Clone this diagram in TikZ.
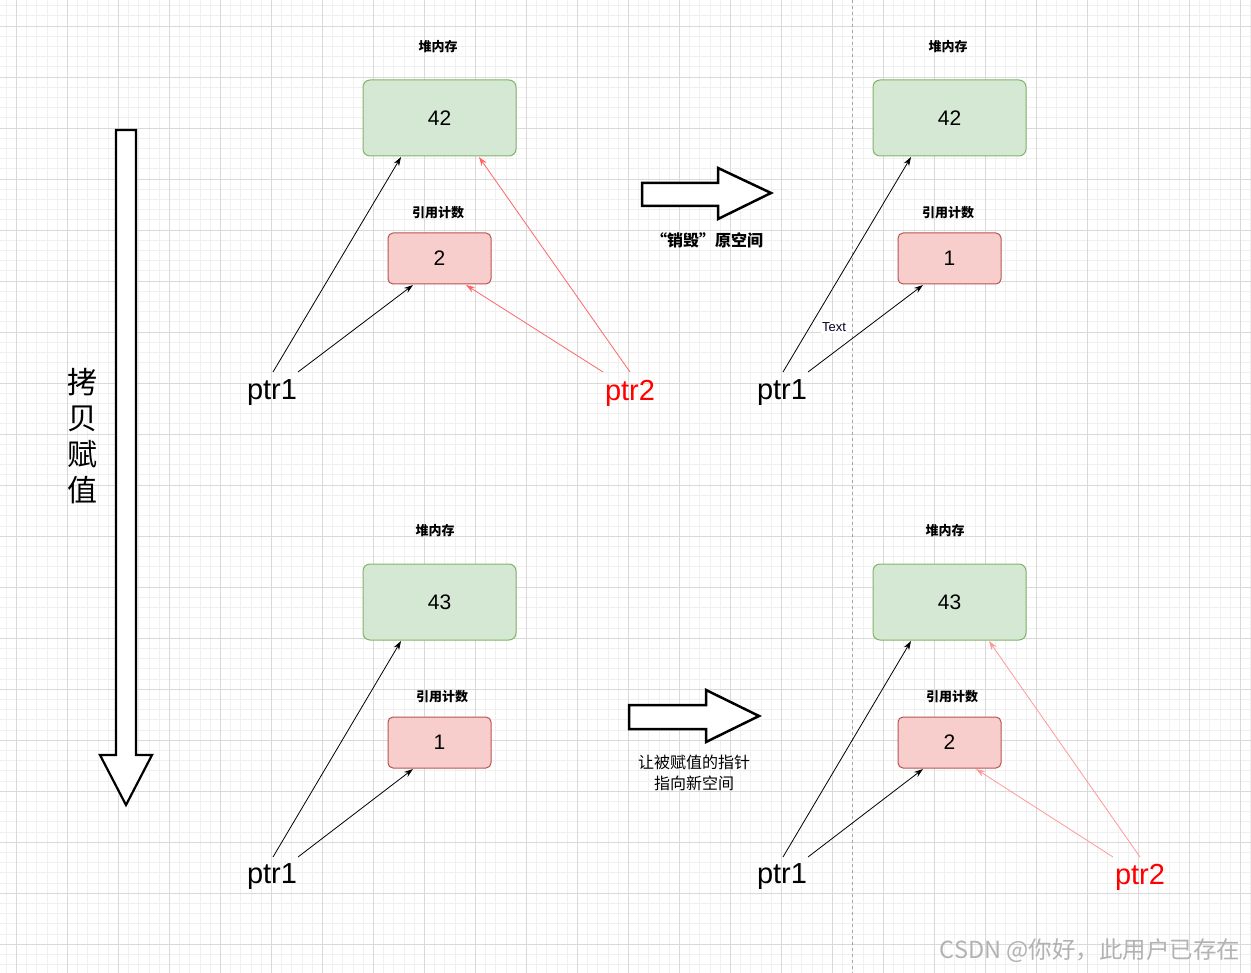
\documentclass[tikz,border=0pt]{standalone}
\usepackage{fontspec}
\setmainfont{Liberation Sans}
\newfontfamily\cjk{Noto Sans CJK SC}
\usetikzlibrary{arrows.meta}
\definecolor{hfill}{HTML}{D5E8D4}\definecolor{hdraw}{HTML}{82B366}
\definecolor{rfill}{HTML}{F8CECC}\definecolor{rdraw}{HTML}{B85450}
\definecolor{pred}{HTML}{FF0000}\definecolor{lred}{HTML}{FF6666}\definecolor{llred}{HTML}{FF9999}
\begin{document}
\begin{tikzpicture}[x=1pt,y=-1pt,
 heap/.style={draw=hdraw,fill=hfill,line width=1pt,rounded corners=7pt,minimum width=153pt,minimum height=76pt,font=\fontsize{21}{21}\selectfont},
 refc/.style={draw=rdraw,fill=rfill,line width=1pt,rounded corners=5pt,minimum width=103pt,minimum height=51pt,font=\fontsize{21}{21}\selectfont},
 lbl/.style={font=\cjk\bfseries\fontsize{13}{13}\selectfont},
 ptr/.style={font=\fontsize{29}{29}\selectfont},
 con/.style={-{Stealth[length=9pt,width=6pt]},line width=0.8pt},
 fat/.style={draw=black,line width=2.5pt,fill=white,line join=miter}]
\useasboundingbox (0,0) rectangle (1251,973);
\fill[white] (0,0) rectangle (1251,973);
\foreach \x in {6,16.2,...,1251} \draw[black!6,line width=0.6pt] (\x,0)--(\x,973);
\foreach \y in {5.6,15.8,...,973} \draw[black!6,line width=0.6pt] (0,\y)--(1251,\y);
\foreach \x in {16,67,...,1251} \draw[black!15,line width=0.6pt] (\x,0)--(\x,973);
\foreach \y in {26,77,...,973} \draw[black!15,line width=0.6pt] (0,\y)--(1251,\y);
\draw[black!35,dashed,line width=0.8pt] (852,0)--(852,973);
% vertical arrow
\draw[fat,line width=2.2pt] (116,130)--(136,130)--(136,755)--(152,755)--(126,805)--(100,755)--(116,755)--cycle;
\node[font=\cjk\fontsize{30}{36}\selectfont,align=center] (title) at (82,436) {拷\\贝\\赋\\值};
% top left
\node[lbl] (l1) at (438,47) {堆内存};
\node[heap] (h1) at (439.5,118) {42};
\node[lbl] (c1) at (438,213) {引用计数};
\node[refc] (r1) at (439.5,258.5) {2};
\node[ptr] (p1) at (272,393) {ptr1};
\node[ptr,text=pred] (q1) at (630,393) {ptr2};
\draw[con] (273,372) -- (401,157);
\draw[con] (298,372) -- (413,285);
\draw[con,lred] (630,372) -- (479,157);
\draw[con,lred] (603,372) -- (466,285);
% top arrow
\draw[fat] (642,183)--(718,183)--(718,168)--(771,193)--(718,219)--(718,206)--(642,206)--cycle;
\node[font=\cjk\bfseries\fontsize{16}{16}\selectfont] (t1) at (707,240) {“销毁”原空间};
% top right
\node[lbl] (l2) at (948,47) {堆内存};
\node[heap] (h2) at (949.5,118) {42};
\node[lbl] (c2) at (948,213) {引用计数};
\node[refc] (r2) at (949.5,258.5) {1};
\node[ptr] (p2) at (782,393) {ptr1};
\draw[con] (783,372) -- (911,157);
\draw[con] (808,372) -- (923,285);
\node[font=\fontsize{13}{13}\selectfont,text=black!85!blue,fill=white,inner sep=1pt] (tx) at (834,327) {Text};
% bottom left
\node[lbl] (l3) at (435,531) {堆内存};
\node[heap] (h3) at (439.5,602) {43};
\node[lbl] (c3) at (442,697) {引用计数};
\node[refc] (r3) at (439.5,742.5) {1};
\node[ptr] (p3) at (272,877) {ptr1};
\draw[con] (273,857) -- (401,641);
\draw[con] (298,857) -- (413,769);
% bottom arrow
\draw[fat] (629,705)--(706,705)--(706,690)--(759,716)--(706,742)--(706,729)--(629,729)--cycle;
\node[font=\cjk\fontsize{16}{21}\selectfont,align=center] (t2) at (694,773) {让被赋值的指针\\指向新空间};
% bottom right
\node[lbl] (l4) at (945,531) {堆内存};
\node[heap] (h4) at (949.5,602) {43};
\node[lbl] (c4) at (952,697) {引用计数};
\node[refc] (r4) at (949.5,742.5) {2};
\node[ptr] (p4) at (782,877) {ptr1};
\node[ptr,text=pred] (q4) at (1140,877) {ptr2};
\draw[con] (783,857) -- (911,641);
\draw[con] (808,857) -- (923,769);
\draw[con,llred] (1140,857) -- (989,641);
\draw[con,llred] (1113,857) -- (976,769);
\node[font=\cjk\fontsize{23.5}{23.5}\selectfont,text=black!30] (wm) at (1090,951) {CSDN @你好，此用户已存在};
\end{tikzpicture}
\end{document}
